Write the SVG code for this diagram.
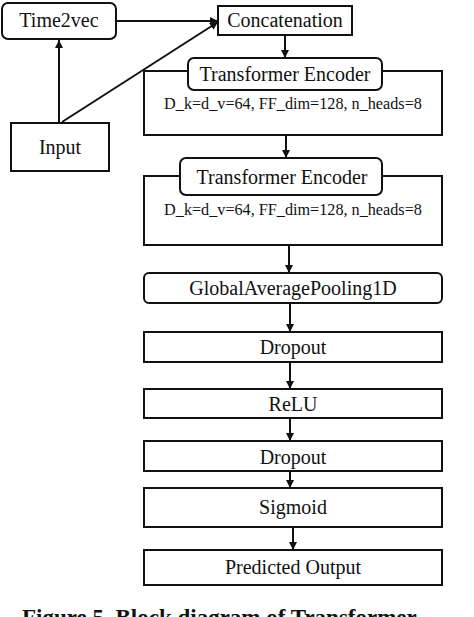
<svg xmlns="http://www.w3.org/2000/svg" width="474" height="617" viewBox="0 0 474 617">
<style>
  .box{fill:#fff;stroke:#111;stroke-width:2}
  .t{font-family:"Liberation Serif","Times New Roman",serif;font-size:20px;fill:#111;text-anchor:middle}
  .p{font-family:"Liberation Serif","Times New Roman",serif;font-size:16.2px;fill:#111;text-anchor:middle}
  .cap{font-family:"Liberation Serif","Times New Roman",serif;font-size:23px;font-weight:bold;fill:#111}
  .c{stroke:#111;stroke-width:2;fill:none;marker-end:url(#ah)}
</style>
<defs>
  <marker id="ah" viewBox="0 0 10 10" refX="10" refY="5" markerWidth="4" markerHeight="4" orient="auto" markerUnits="strokeWidth">
    <path d="M0,0 L10,5 L0,10 z" fill="#111"/>
  </marker>
</defs>
<rect width="474" height="617" fill="#fff"/>
<g id="connectors">
  <line class="c" x1="116" y1="21" x2="218" y2="21"/>
  <line class="c" x1="59" y1="123" x2="59" y2="40"/>
  <line class="c" x1="62" y1="122" x2="218" y2="22"/>
  <line class="c" x1="285" y1="35" x2="285" y2="58"/>
  <line class="c" x1="286" y1="135" x2="286" y2="158"/>
  <line class="c" x1="289" y1="245" x2="289" y2="273"/>
  <line class="c" x1="290" y1="303" x2="290" y2="332"/>
  <line class="c" x1="290" y1="362" x2="290" y2="389"/>
  <line class="c" x1="290" y1="418" x2="290" y2="441"/>
  <line class="c" x1="290" y1="471" x2="290" y2="488"/>
  <line class="c" x1="293" y1="527" x2="293" y2="550"/>
</g>
<g id="time2vec">
  <rect class="box" x="2" y="3" width="114" height="36" rx="6"/>
  <text class="t" x="59" y="27">Time2vec</text>
</g>
<g id="concatenation">
  <rect class="box" x="218" y="6" width="134" height="29"/>
  <text class="t" x="285" y="27">Concatenation</text>
</g>
<g id="input">
  <rect class="box" x="11" y="123" width="98" height="48"/>
  <text class="t" x="60" y="154">Input</text>
</g>
<g id="encoder1">
  <rect class="box" x="144" y="71" width="298" height="64"/>
  <rect class="box" x="188" y="58" width="194" height="32" rx="6"/>
  <text class="t" x="285" y="81">Transformer Encoder</text>
  <text class="p" x="293" y="109">D_k=d_v=64, FF_dim=128, n_heads=8</text>
</g>
<g id="encoder2">
  <rect class="box" x="144" y="176" width="298" height="69"/>
  <rect class="box" x="180" y="158" width="202" height="37" rx="6"/>
  <text class="t" x="282" y="184">Transformer Encoder</text>
  <text class="p" x="293" y="215">D_k=d_v=64, FF_dim=128, n_heads=8</text>
</g>
<g id="gap">
  <rect class="box" x="144" y="273" width="298" height="30" rx="5"/>
  <text class="t" x="293" y="295">GlobalAveragePooling1D</text>
</g>
<g id="dropout1">
  <rect class="box" x="144" y="332" width="298" height="30"/>
  <text class="t" x="293" y="354">Dropout</text>
</g>
<g id="relu">
  <rect class="box" x="144" y="389" width="298" height="29"/>
  <text class="t" x="293" y="411">ReLU</text>
</g>
<g id="dropout2">
  <rect class="box" x="144" y="441" width="298" height="30"/>
  <text class="t" x="293" y="464">Dropout</text>
</g>
<g id="sigmoid">
  <rect class="box" x="144" y="488" width="298" height="39"/>
  <text class="t" x="293" y="514">Sigmoid</text>
</g>
<g id="predicted">
  <rect class="box" x="144" y="550" width="298" height="35"/>
  <text class="t" x="293" y="574">Predicted Output</text>
</g>
<text class="cap" x="22" y="625">Figure 5. Block diagram of Transformer</text>
</svg>
